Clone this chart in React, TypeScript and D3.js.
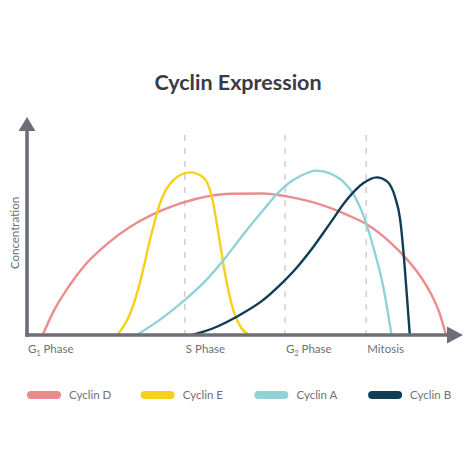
import React from "react";
import * as d3 from "d3";

// time along the cycle (0-100) and concentration (0-100)
const cyclinD: [number, number][] = [
  [3.6, 0], [6.0, 10.5], [9.5, 22], [13.7, 33], [18.5, 42], [23.6, 49.5], [31.3, 57.5],
  [38.9, 62.5], [46.6, 64.8], [54.2, 64.9], [59.6, 63.6], [65.7, 60.8], [73.3, 55.2],
  [77.9, 50.8], [83.3, 42.5], [87.1, 34.8], [90.1, 27.3], [92.5, 19.5], [94.7, 9.6], [96.1, 0],
];
const cyclinE: [number, number][] = [
  [20.6, 0], [22.0, 3.5], [23.6, 9.5], [25.9, 24], [28.2, 43.6], [30.5, 60.4], [33.6, 71.1],
  [37.4, 74.6], [40.4, 72.4], [42.4, 63.4], [43.9, 46.7], [45.4, 28.3], [47.3, 11.5],
  [49.2, 3.1], [51.1, 0],
];
const cyclinA: [number, number][] = [
  [25.2, 0], [31.3, 8.2], [36.2, 16.1], [41.2, 25.4], [45.4, 35.2], [49.6, 46.1],
  [54.2, 57.3], [57.3, 64.6], [60.3, 70.1], [62.4, 72.6], [66.4, 75.4], [69.6, 74.0],
  [72.6, 70.2], [75.0, 64.2], [77.1, 55.2], [79.4, 40.5], [81.7, 22.2], [83.6, 0],
];
const cyclinB: [number, number][] = [
  [37.8, 0], [42.7, 3.1], [48.1, 8.4], [54.2, 16.1], [58.0, 22.9], [61.9, 31.0],
  [65.7, 40.5], [69.5, 51.2], [73.3, 61.9], [77.1, 69.6], [80.2, 72.3], [82.5, 70.6],
  [84.4, 63.4], [85.6, 52.8], [86.5, 34.4], [87.2, 16.1], [87.8, 0],
];

const phaseNames = ["G", "S Phase", "G", "Mitosis"];
const phaseSubs = ["1", "", "2", ""];
const phaseTimes = [0, 36.2, 59.2, 77.8];

const seriesNames = ["Cyclin D", "Cyclin E", "Cyclin A", "Cyclin B"];
const seriesColors = ["#ec8c8e", "#f6d01e", "#92d2d7", "#0f3e54"];
const seriesData = [cyclinD, cyclinE, cyclinA, cyclinB];

const W = 474;
const H = 474;
const left = 27;
const right = 463;
const bottom = 335;
const top = 117;

export default function App() {
  const x = d3.scaleLinear().domain([0, 100]).range([left, right]);
  const y = d3.scaleLinear().domain([0, 100]).range([bottom, top]);
  const line = d3
    .line<[number, number]>()
    .x((d) => x(d[0]))
    .y((d) => y(d[1]))
    .curve(d3.curveMonotoneX);

  const axisColor = "#6d6e77";
  const textColor = "#6f7075";
  const font = "Lato, 'Open Sans', sans-serif";

  return (
    <div style={{ position: "absolute", left: 0, top: 0, background: "#fff" }}>
      <svg width={W} height={H} style={{ display: "block" }}>
        <rect width={W} height={H} fill="#fff" />
        <text
          x={238}
          y={90}
          textAnchor="middle"
          fontFamily={font}
          fontWeight={700}
          fontSize={21.5}
          fill="#3a3b44"
        >
          Cyclin Expression
        </text>

        {/* phase guides */}
        {phaseTimes.slice(1).map((t, i) => (
          <line
            key={i}
            x1={x(t)}
            x2={x(t)}
            y1={135}
            y2={bottom}
            stroke="#cfcfd2"
            strokeWidth={1.5}
            strokeDasharray="6 7"
          />
        ))}

        {seriesData.map((s, i) => (
          <path
            key={seriesNames[i]}
            d={line(s) ?? ""}
            fill="none"
            stroke={seriesColors[i]}
            strokeWidth={2.4}
            strokeLinejoin="round"
          />
        ))}

        {/* axes */}
        <line x1={left} x2={left} y1={bottom + 1.8} y2={top + 12} stroke={axisColor} strokeWidth={3.6} />
        <path d={`M${left - 8.5},${top + 14} L${left},${top} L${left + 8.5},${top + 14} Z`} fill={axisColor} />
        <line x1={left - 1.8} x2={right - 14} y1={bottom} y2={bottom} stroke={axisColor} strokeWidth={3.6} />
        <path d={`M${right - 16},${bottom - 8.5} L${right},${bottom} L${right - 16},${bottom + 8.5} Z`} fill={axisColor} />

        <text
          transform={`translate(19,233) rotate(-90)`}
          textAnchor="middle"
          fontFamily={font}
          fontSize={11.5}
          fill={textColor}
        >
          Concentration
        </text>

        {phaseTimes.map((t, i) => (
          <text key={i} x={x(t) + 1} y={353} fontFamily={font} fontSize={11.5} fill={textColor}>
            {phaseNames[i]}
            {phaseSubs[i] && (
              <tspan fontSize={7} dy={3}>
                {phaseSubs[i]}
              </tspan>
            )}
            {phaseSubs[i] && <tspan dy={-3}> Phase</tspan>}
          </text>
        ))}

        {/* legend */}
        {seriesNames.map((n, i) => {
          const lx = 27 + i * 113.7;
          return (
            <g key={n}>
              <line
                x1={lx + 4}
                x2={lx + 30}
                y1={395}
                y2={395}
                stroke={seriesColors[i]}
                strokeWidth={8}
                strokeLinecap="round"
              />
              <text x={lx + 42} y={399} fontFamily={font} fontSize={11.5} fill={textColor}>
                {n}
              </text>
            </g>
          );
        })}
      </svg>
    </div>
  );
}
